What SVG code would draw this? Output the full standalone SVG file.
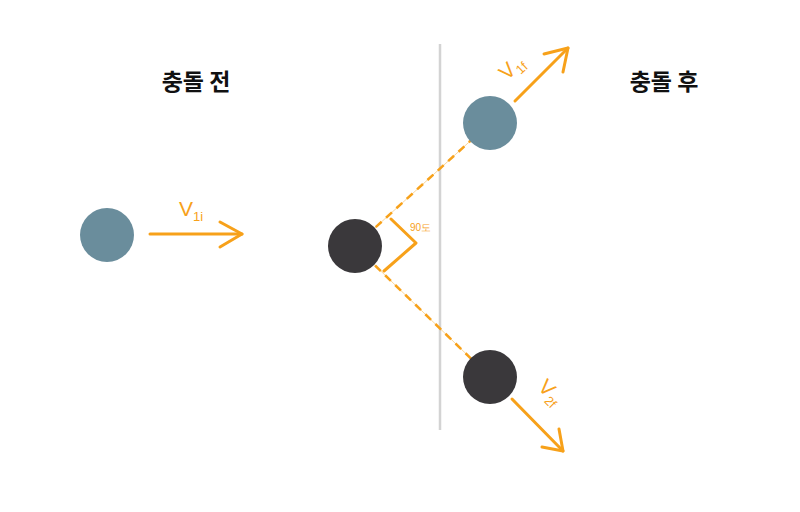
<svg xmlns="http://www.w3.org/2000/svg" width="800" height="512" viewBox="0 0 800 512">
<style>
.title{font-family:"Noto Sans CJK KR","Noto Sans",sans-serif;font-weight:bold;font-size:23px;fill:#111;text-anchor:middle}
.lbl{font-family:"Liberation Sans",Arial,sans-serif;fill:#f7a11a}
.arrow{stroke:#f7a11a;stroke-width:3;fill:none;stroke-linecap:round;stroke-linejoin:round}
.dash{stroke:#f7a11a;stroke-width:2.5;stroke-dasharray:8 6;fill:none}
.thin{stroke:#fbd79a;stroke-width:1;fill:none}
.blue{fill:#6a8d9c}
.dark{fill:#3a383b}
</style>
<rect width="800" height="512" fill="#fff"/>
<text class="title" x="196" y="90">충돌 전</text>
<text class="title" x="664" y="90">충돌 후</text>
<line x1="440" y1="44" x2="440" y2="430" stroke="#d3d3d3" stroke-width="2.5"/>
<g id="connectors">
<line class="thin" x1="355" y1="246" x2="490" y2="123"/>
<line class="thin" x1="355" y1="246" x2="490" y2="377"/>
<line class="dash" x1="355" y1="246" x2="490" y2="123"/>
<line class="dash" x1="355" y1="246" x2="490" y2="377"/>
<polyline class="arrow" stroke-width="2" points="391,219 416,243 384,271"/>
<text class="lbl" x="410" y="231" font-size="10" font-family="'Noto Sans CJK KR',sans-serif">90도</text>
<g id="v1i">
<line class="arrow" x1="150" y1="234" x2="242" y2="234"/>
<polyline class="arrow" points="220,222 242,234 220,247"/>
<text class="lbl" x="179" y="216" font-size="21">V<tspan font-size="13" dy="5">1i</tspan></text>
</g>
<g id="v1f">
<line class="arrow" x1="515" y1="101" x2="568" y2="48"/>
<polyline class="arrow" points="544,54 568,48 563,72"/>
<text class="lbl" transform="translate(507,81) rotate(-43)" font-size="21">V<tspan font-size="13" dy="5">1f</tspan></text>
</g>
<g id="v2f">
<line class="arrow" x1="512" y1="399" x2="563" y2="451"/>
<polyline class="arrow" points="559,429 563,451 542,447"/>
<text class="lbl" transform="translate(537,388) rotate(45)" font-size="21">V<tspan font-size="13" dy="5">2f</tspan></text>
</g>
</g>
<g id="ball1-before"><circle class="blue" cx="107" cy="235" r="27"/></g>
<g id="ball2-before"><circle class="dark" cx="355" cy="246" r="27"/></g>
<g id="ball1-after"><circle class="blue" cx="490" cy="123" r="27"/></g>
<g id="ball2-after"><circle class="dark" cx="490" cy="377" r="27"/></g>
</svg>
